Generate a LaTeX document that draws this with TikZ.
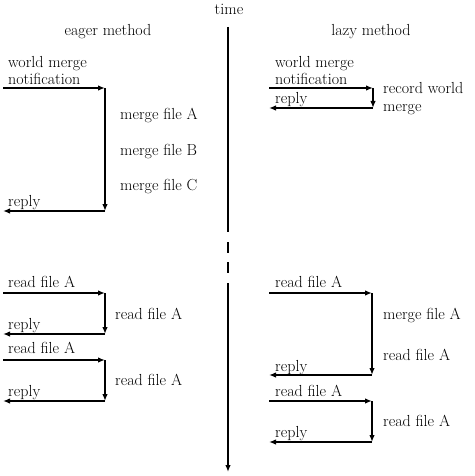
\documentclass[tikz,border=0pt]{standalone}
\usetikzlibrary{arrows.meta}
\tikzset{
  lbl/.style={inner sep=0pt, anchor=base west, font=\fontsize{16}{19}\selectfont},
  head/.style={lbl, anchor=base},
  msg/.style={line width=1.4pt, -{Latex[length=7pt,width=5.5pt]}},
  axis/.style={line width=1.4pt},
}
\begin{document}
\begin{tikzpicture}[x=1pt,y=-1pt]
	%%%%% START %%%%%
	\useasboundingbox (0,0) rectangle (474,476);
	
	% time axis
	\node[head] (time) at (229,15) {time};
	\coordinate (t0) at (228,27);
	\coordinate (t1) at (228,232);
	\coordinate (t2) at (228,242);
	\coordinate (t3) at (228,253);
	\coordinate (t4) at (228,262);
	\coordinate (t5) at (228,273);
	\coordinate (t6) at (228,283);
	\coordinate (t7) at (228,472);
	\draw[axis] (t0) -- (t1);
	\draw[axis] (t2) -- (t3);
	\draw[axis] (t4) -- (t5);
	\draw[msg] (t6) -- (t7);
	
	\node[head] (eager) at (108,36) {eager method};
	\node[head] (lazy) at (371,36) {lazy method};
	
	% eager: world merge
	\node[lbl] (ewm) at (8,68) {world merge};
	\node[lbl] (enot) at (8,85) {notification};
	\node[lbl] (erep) at (8,206) {reply};
	\node[lbl] (emA) at (120,120) {merge file A};
	\node[lbl] (emB) at (120,155) {merge file B};
	\node[lbl] (emC) at (120,190) {merge file C};
	\coordinate (e1a) at (3,88);
	\coordinate (e1b) at (105,88);
	\coordinate (e1c) at (105,211);
	\coordinate (e1d) at (3,211);
	\draw[msg] (e1a) -- (e1b);
	\draw[msg] (e1b) -- (e1c);
	\draw[msg] (e1c) -- (e1d);
	
	% lazy: world merge
	\node[lbl] (lwm) at (275,68) {world merge};
	\node[lbl] (lnot) at (275,85) {notification};
	\node[lbl] (lrep) at (275,104) {reply};
	\node[lbl] (lrec) at (383,94) {record world};
	\node[lbl] (lrec2) at (383,111) {merge};
	\coordinate (l1a) at (269,88);
	\coordinate (l1b) at (373,88);
	\coordinate (l1c) at (373,108);
	\coordinate (l1d) at (269,108);
	\draw[msg] (l1a) -- (l1b);
	\draw[msg] (l1b) -- (l1c);
	\draw[msg] (l1c) -- (l1d);
	
	% eager: reads
	\node[lbl] (er1) at (8,287) {read file A};
	\node[lbl] (erp1) at (8,329) {reply};
	\node[lbl] (ew1) at (115,319) {read file A};
	\coordinate (e2a) at (3,293);
	\coordinate (e2b) at (105,293);
	\coordinate (e2c) at (105,334);
	\coordinate (e2d) at (3,334);
	\draw[msg] (e2a) -- (e2b);
	\draw[msg] (e2b) -- (e2c);
	\draw[msg] (e2c) -- (e2d);
	
	\node[lbl] (er2) at (8,353) {read file A};
	\node[lbl] (erp2) at (8,396) {reply};
	\node[lbl] (ew2) at (115,385) {read file A};
	\coordinate (e3a) at (3,360);
	\coordinate (e3b) at (105,360);
	\coordinate (e3c) at (105,401);
	\coordinate (e3d) at (3,401);
	\draw[msg] (e3a) -- (e3b);
	\draw[msg] (e3b) -- (e3c);
	\draw[msg] (e3c) -- (e3d);
	
	% lazy: reads
	\node[lbl] (lr1) at (275,287) {read file A};
	\node[lbl] (lrp1) at (275,371) {reply};
	\node[lbl] (lm1) at (383,319) {merge file A};
	\node[lbl] (lw1) at (383,360) {read file A};
	\coordinate (l2a) at (269,293);
	\coordinate (l2b) at (372,293);
	\coordinate (l2c) at (372,375);
	\coordinate (l2d) at (269,375);
	\draw[msg] (l2a) -- (l2b);
	\draw[msg] (l2b) -- (l2c);
	\draw[msg] (l2c) -- (l2d);
	
	\node[lbl] (lr2) at (275,396) {read file A};
	\node[lbl] (lrp2) at (275,437) {reply};
	\node[lbl] (lw2) at (383,426) {read file A};
	\coordinate (l3a) at (269,401);
	\coordinate (l3b) at (372,401);
	\coordinate (l3c) at (372,442);
	\coordinate (l3d) at (269,442);
	\draw[msg] (l3a) -- (l3b);
	\draw[msg] (l3b) -- (l3c);
	\draw[msg] (l3c) -- (l3d);
	
	%%%%% END %%%%%
\end{tikzpicture}
\end{document}
